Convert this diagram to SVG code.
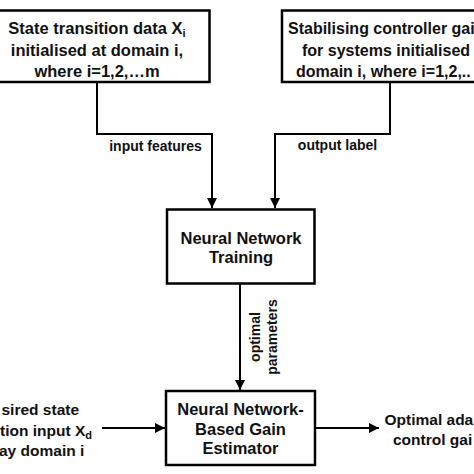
<svg xmlns="http://www.w3.org/2000/svg" width="474" height="474" viewBox="0 0 474 474">
  <style>
    .box { fill: #fff; stroke: #000; stroke-width: 2.5; }
    .big { font-family: "Liberation Sans", Arial, sans-serif; font-weight: bold; font-size: 16.5px; fill: #111; }
    .b16 { font-size: 16px; }
    .b155 { font-size: 15.5px; }
    .small { font-family: "Liberation Sans", Arial, sans-serif; font-weight: bold; font-size: 14px; fill: #111; }
    .mid { text-anchor: middle; }
    .sub { font-size: 11px; }
    .conn { fill: none; stroke: #000; stroke-width: 2; }
  </style>
  <defs>
    <marker id="arrow" viewBox="0 0 10 10" refX="10" refY="5" markerWidth="10" markerHeight="10" markerUnits="userSpaceOnUse" orient="auto">
      <path d="M0,0 L10,5 L0,10 Z" fill="#000"/>
    </marker>
  </defs>
  <rect width="474" height="474" fill="#fff"/>

  <g id="connectors">
    <path class="conn" d="M97,82 V134 H212 V208" marker-end="url(#arrow)"/>
    <path class="conn" d="M390,82 V134 H275 V208" marker-end="url(#arrow)"/>
    <path class="conn" d="M240,283 V390" marker-end="url(#arrow)"/>
    <path class="conn" d="M102,428 H165" marker-end="url(#arrow)"/>
    <path class="conn" d="M315,428 H379" marker-end="url(#arrow)"/>
    <text class="small mid" x="155.5" y="151">input features</text>
    <text class="small mid" x="337.5" y="150">output label</text>
    <text class="small mid" transform="translate(260,337) rotate(-90)">optimal</text>
    <text class="small mid" transform="translate(277,337) rotate(-90)">parameters</text>
  </g>

  <g id="state-data">
    <rect class="box" x="-15" y="10.5" width="224.5" height="71.5"/>
    <text class="big mid" x="97" y="34">State transition data X<tspan class="sub" dy="3">i</tspan></text>
    <text class="big mid" x="97" y="56">initialised at domain i,</text>
    <text class="big mid" x="97" y="77">where i=1,2,…m</text>
  </g>

  <g id="controller-gains">
    <rect class="box" x="282" y="10.5" width="220" height="71.5"/>
    <text class="big b16" x="288" y="34">Stabilising controller gai</text>
    <text class="big b16" x="302" y="56">for systems initialised</text>
    <text class="big b16" x="296" y="77">domain i, where i=1,2,..</text>
  </g>

  <g id="nn-training">
    <rect class="box" x="167" y="209.5" width="147.5" height="74"/>
    <text class="big mid" x="241" y="243.5">Neural Network</text>
    <text class="big mid" x="241" y="263">Training</text>
  </g>

  <g id="gain-estimator">
    <rect class="box" x="166" y="391" width="149" height="74"/>
    <text class="big mid" x="240.5" y="415">Neural Network-</text>
    <text class="big mid" x="240.5" y="434.5">Based Gain</text>
    <text class="big mid" x="240.5" y="454">Estimator</text>
  </g>

  <g id="desired-state">
    <text class="big b155" x="1.5" y="415">sired state</text>
    <text class="big b155" x="0" y="436">tion input X<tspan class="sub" dy="3">d</tspan></text>
    <text class="big b155" x="-1" y="456">ay domain i</text>
  </g>

  <g id="optimal-gain">
    <text class="big b155" x="384.5" y="425">Optimal ada</text>
    <text class="big b155" x="393" y="445">control gai</text>
  </g>
</svg>
